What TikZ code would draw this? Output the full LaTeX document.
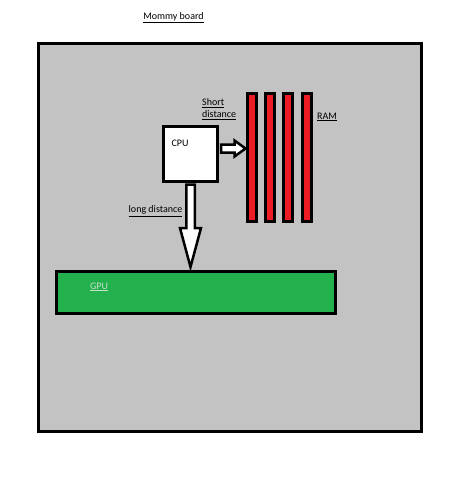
\documentclass[tikz,border=0pt]{standalone}
\usepackage{fontspec}
\setmainfont{Carlito}
\usetikzlibrary{calc}
\definecolor{boardgray}{RGB}{195,195,195}
\definecolor{ramred}{RGB}{237,28,36}
\definecolor{gpugreen}{RGB}{34,177,76}
\definecolor{gputext}{RGB}{205,222,205}

\begin{document}
\begin{tikzpicture}[x=1pt, y=-1pt, font=\fontsize{10}{12}\selectfont,
		b/.style={draw, line width=3pt, inner sep=0pt},
		a/.style={draw, line width=2.5pt, fill=white, line join=miter},
		t/.style={inner sep=0pt, align=left}]
		\useasboundingbox (0,0) rectangle (474,477);

		\node[t] (M_label) at (173.5,18) {\underline{Mommy board}};
		\node[b, fill=boardgray, minimum width=383pt, minimum height=388pt] (board) at (230,237.5) {};

		\node[b, fill=white, minimum width=54pt, minimum height=55pt] (CPU) at (190.5,154) {};
		\node[t] (CPU_label) at (180,143) {CPU};

		\foreach \x [count=\i] in {251.5,269.5,288,306.5}
			\node[b, fill=ramred, minimum width=9pt, minimum height=128pt] (R\i) at (\x,157.5) {};
		\node[t, anchor=west] (R_label) at (317,117) {\underline{RAM}};

		\node[b, fill=gpugreen, minimum width=279pt, minimum height=42pt] (GPU) at (196,292.5) {};
		\node[t, text=gputext] (GPU_label) at (99,287) {\underline{GPU}};

		\draw[a] ($(CPU.east)+(2,-9.5)$) -- ++(13.5,0) -- ++(0,-4) -- ($(R1.west)+(0,-9)$)
			-- ($(CPU.east)+(15.5,2.5)$) -- ++(0,-4) -- ++(-13.5,0) -- cycle;
		\node[t, anchor=west] (S_label) at (202,109) {\underline{Short}\\\underline{distance}};

		\draw[a] ($(CPU.south)+(-4.25,1.5)$) -- ++(0,43.5) -- ++(-6.25,0) -- ($(CPU.south |- GPU.north)+(0,-3)$)
			-- ($(CPU.south)+(10.5,45)$) -- ++(-6.25,0) -- ++(0,-43.5) -- cycle;
		\node[t] (L_label) at (155.5,211) {\underline{long distance}};
	\end{tikzpicture}
\end{document}
